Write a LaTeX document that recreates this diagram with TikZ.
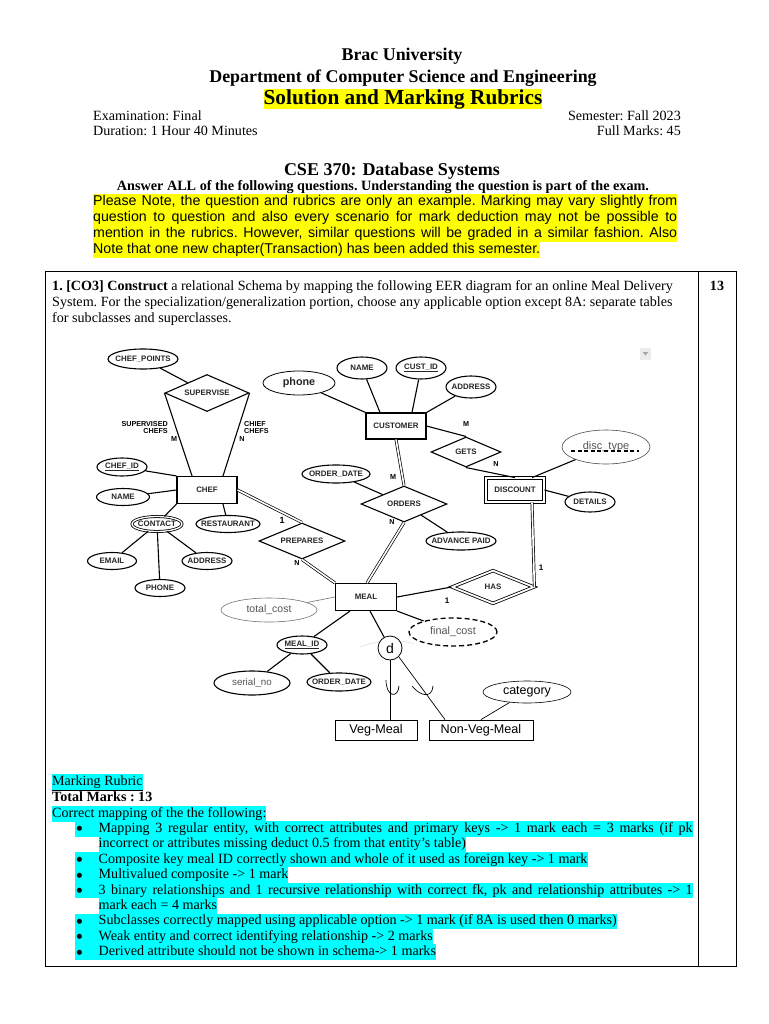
\documentclass[tikz,border=0pt]{standalone}
\usepackage{fontspec}
\setmainfont{Liberation Serif}
\setsansfont{Liberation Sans}
\newfontfamily\djv{DejaVu Sans}
\usetikzlibrary{shapes.geometric}
\definecolor{hly}{HTML}{FFFF00}
\definecolor{hlc}{HTML}{00FFFF}
\definecolor{greytxt}{HTML}{555555}
\newcommand\erf{\sffamily\bfseries\fontsize{7.9}{8.5}\selectfont}
\newcommand\bodyf{\fontsize{14.1}{15}\selectfont\frenchspacing}
\newcommand\zw[1]{\makebox[0pt]{#1}}
\newcommand\bul{\makebox[23.5pt][l]{\hspace{1.5pt}\raisebox{1.6pt}{\djv\fontsize{6.6}{7}\selectfont ●}}}
\begin{document}
\begin{tikzpicture}[x=1pt,y=-1pt,
  ent/.style={draw, line width=1.1pt, inner sep=0, minimum width=60pt, minimum height=27pt, font=\erf, text=black!85},
  att/.style={draw, ellipse, line width=1.1pt, inner sep=0, font=\erf, text=black!85},
  rel/.style={draw, diamond, line width=1.1pt, inner sep=0, font=\erf, text=black!85},
  ln/.style={line width=1.1pt},
  dbl/.style={double, double distance=1.6pt, line width=0.7pt},
  card/.style={font=\sffamily\bfseries\fontsize{7.2}{8}\selectfont, inner sep=0},
  tl/.style={anchor=base west, inner sep=0, font=\bodyf},
  tr/.style={anchor=base east, inner sep=0, font=\bodyf},
  tc/.style={anchor=base, inner sep=0},
  yel/.style={fill=hly, text height=11.8pt, text depth=4.2pt},
  cya/.style={fill=hlc, text height=11.4pt, text depth=4pt},
  notef/.style={font=\sffamily\fontsize{14.2}{16}\selectfont\frenchspacing},
]
\useasboundingbox (0,0) rectangle (768,1024);
\fill[white] (0,0) rectangle (768,1024);

% ---------- header ----------
\node[tc, font=\bfseries\fontsize{17.9}{20}\selectfont] (t1) at (402,61) {Brac University};
\node[tc, font=\bfseries\fontsize{17.9}{20}\selectfont] (t2) at (403,83) {Department of Computer Science and Engineering};
\node[tc, fill=hly, text height=15.5pt, text depth=5pt, font=\bfseries\fontsize{21.3}{23}\selectfont] (t3) at (403,104.5) {Solution and Marking Rubrics};
\node[tl] (ex) at (93,120.5) {Examination: Final};
\node[tl] (du) at (93,136) {Duration: 1 Hour 40 Minutes};
\node[tr] (se) at (681,120.5) {Semester: Fall 2023};
\node[tr] (fm) at (681,136) {Full Marks: 45};
\node[tc, font=\bfseries\fontsize{18}{20}\selectfont] (cse) at (392,176) {CSE 370: Database Systems};
\node[tc, font=\bfseries\fontsize{14.2}{15}\selectfont\frenchspacing] (ans) at (383,190.5) {Answer ALL of the following questions. Understanding the question is part of the exam.};

\node[tl, yel, notef] (n1) at (93,205.5) {\makebox[584pt][s]{Please Note, the question and rubrics are only an example. Marking may vary slightly from}};
\node[tl, yel, notef] (n2) at (93,221.5) {\makebox[584pt][s]{question to question and also every scenario for mark deduction may not be possible to}};
\node[tl, yel, notef] (n3) at (93,237.5) {\makebox[584pt][s]{mention in the rubrics. However, similar questions will be graded in a similar fashion. Also}};
\node[tl, yel, notef] (n4) at (93,253.5) {Note that one new chapter(Transaction) has been added this semester.};

% ---------- box ----------
\draw[line width=1pt] (45,271) rectangle (736,966);
\draw[line width=1pt] (698,271) -- (698,966);
\node[tl] (q1) at (52,290.5) {\textbf{1. [CO3] Construct} a relational Schema by mapping the following EER diagram for an online Meal Delivery};
\node[tl] (q2) at (52,306.5) {System. For the specialization/generalization portion, choose any applicable option except 8A: separate tables};
\node[tl] (q3) at (52,322.5) {for subclasses and superclasses.};
\node[tc, font=\bfseries\bodyf] (m13) at (717,290.5) {13};

% ---------- EER diagram ----------
\fill[gray!15] (640,348) rectangle (651,360);
\fill[gray!70] (642.5,352) -- (648.5,352) -- (645.5,355.5) -- cycle;

% CHEF side
\node[att, minimum width=70pt, minimum height=20pt] (chefpoints) at (143,359) {\zw{CHEF\_POINTS}};
\node[rel, minimum width=84pt, minimum height=37pt] (supervise) at (207,393) {\zw{SUPERVISE}};
\node[ent] (chef) at (207,490) {CHEF};
\node[att, minimum width=50pt, minimum height=18pt] (chefid) at (122,467) {\zw{\underline{CHEF\_ID}}};
\node[att, minimum width=53pt, minimum height=17pt] (cname) at (123,497) {\zw{NAME}};
\node[att, double, double distance=1.3pt, line width=0.8pt, minimum width=50pt, minimum height=15pt] (contact) at (157,524) {\zw{CONTACT}};
\node[att, minimum width=64pt, minimum height=17pt] (restaurant) at (228,524) {\zw{RESTAURANT}};
\node[att, minimum width=49pt, minimum height=17pt] (email) at (112,561) {\zw{EMAIL}};
\node[att, minimum width=50pt, minimum height=17pt] (caddr) at (207,561) {\zw{ADDRESS}};
\node[att, minimum width=50pt, minimum height=17pt] (cphone) at (160,588) {\zw{PHONE}};
\node[rel, minimum width=86pt, minimum height=36pt] (prepares) at (302,541) {\zw{PREPARES}};

\draw[ln] (chefpoints) -- (supervise);
\draw[ln] (supervise.west) -- ([xshift=-15pt]chef.north);
\draw[ln] (supervise.east) -- ([xshift=16pt]chef.north);
\draw[ln] (chefid) -- (chef.north west);
\draw[ln] (cname) -- (chef.west);
\draw[ln] (contact) -- (chef.south west);
\draw[ln] (restaurant) -- ([xshift=16pt]chef.south);
\draw[ln] (contact) -- (email);
\draw[ln] (contact) -- (cphone);
\draw[ln] (contact) -- (caddr);

\node[card, anchor=east, align=right] (supd) at (168,428) {SUPERVISED\\[-1pt]CHEFS};
\node[card, anchor=west, align=left] (chiefc) at (244,428) {CHIEF\\[-1pt]CHEFS};
\node[card] (cm1) at (174,439) {M};
\node[card] (cn1) at (242,439) {N};

% CUSTOMER side
\node[att, minimum width=72pt, minimum height=24pt, line width=0.8pt, font=\sffamily\bfseries\fontsize{10.8}{12}\selectfont] (phone) at (299,383) {\zw{phone}};
\node[att, minimum width=50pt, minimum height=22pt] (cname2) at (362,368) {\zw{NAME}};
\node[att, minimum width=50pt, minimum height=22pt] (custid) at (421,368) {\zw{\underline{CUST\_ID}}};
\node[att, minimum width=50pt, minimum height=22pt] (caddr2) at (471,387) {\zw{ADDRESS}};
\node[ent, minimum height=26pt] (customer) at (396,426) {CUSTOMER};
\node[rel, minimum width=70pt, minimum height=30pt] (gets) at (466,452) {\zw{GETS}};
\node[ent, double, double distance=1.8pt, line width=0.8pt, minimum width=58pt, minimum height=24pt] (discount) at (515,490) {DISCOUNT};
\node[att, line width=0.6pt, draw=black!70, minimum width=88pt, minimum height=34pt, font=\sffamily\fontsize{11}{12}\selectfont, text=greytxt] (disctype) at (606,447) {\zw{disc\_type}};
\node[att, minimum width=50pt, minimum height=20pt] (details) at (590,502) {\zw{DETAILS}};
\node[att, minimum width=68pt, minimum height=18pt] (orderdate) at (336,474) {\zw{ORDER\_DATE}};
\node[rel, minimum width=86pt, minimum height=36pt] (orders) at (404,504) {\zw{ORDERS}};
\node[att, minimum width=70pt, minimum height=18pt] (advpaid) at (461,541) {\zw{ADVANCE PAID}};

\draw[ln] (phone) -- (customer.north west);
\draw[ln] (cname2) -- ([xshift=-16pt]customer.north);
\draw[ln] (custid) -- ([xshift=16pt]customer.north);
\draw[ln] (caddr2) -- (customer.north east);
\draw[ln] (customer.east) -- (gets.north);
\draw[ln] (gets.south) -- (discount.north);
\draw[ln] ([xshift=17pt]discount.north) -- (disctype);
\draw[ln] (discount.east) -- (details);
\draw[ln] (orderdate) -- (orders);
\draw[ln] (orders) -- (advpaid);
\draw[dbl] (customer.south) -- (orders.north);
\draw[dashed, line width=1.4pt, dash pattern=on 4pt off 2.6pt] ([xshift=-35pt,yshift=-4pt]disctype.center) -- ([xshift=33pt,yshift=-4pt]disctype.center);

\node[card] (cm2) at (466,424) {M};
\node[card] (cn2) at (496,464) {N};
\node[card] (cm3) at (393,477) {M};
\node[card] (cn3) at (392,522) {N};

% MEAL
\node[ent, minimum width=61pt] (meal) at (366,597) {MEAL};
\node[rel, double, double distance=1.8pt, line width=0.8pt, minimum width=82pt, minimum height=33pt] (has) at (493,587) {\zw{HAS}};
\node[att, line width=0.6pt, draw=black!55, minimum width=96pt, minimum height=24pt, font=\sffamily\fontsize{10.5}{12}\selectfont, text=greytxt] (totalcost) at (269,610) {\zw{total\_cost}};
\node[att, dashed, dash pattern=on 5pt off 3pt, line width=1.3pt, minimum width=88pt, minimum height=28pt, font=\sffamily\fontsize{10.8}{12}\selectfont, text=greytxt] (finalcost) at (453,632) {\zw{final\_cost}};
\node[att, minimum width=50pt, minimum height=18pt] (mealid) at (302,645) {\zw{\underline{MEAL\_ID}}};
\node[att, minimum width=76pt, minimum height=24pt, font=\sffamily\fontsize{9.8}{11}\selectfont, text=greytxt] (serialno) at (252,683) {\zw{serial\_no}};
\node[att, minimum width=64pt, minimum height=18pt] (odate2) at (339,682) {\zw{ORDER\_DATE}};

\draw[dbl] (chef.east) -- (prepares.north);
\draw[dbl] (prepares.south) -- (meal.north west);
\draw[dbl] (orders.south) -- ([xshift=1pt]meal.north);
\draw[dbl] ([xshift=17pt]discount.south) -- (has.east);
\draw[ln] (meal.east) -- (has.west);
\draw[ln] (meal.south east) -- (finalcost);
\draw[line width=0.6pt, black!55] (meal.west) -- (totalcost);
\draw[ln] ([xshift=-16pt]meal.south) -- (mealid);
\draw[ln] (mealid) -- (serialno);
\draw[ln] (mealid) -- (odate2);

\node[card, font=\sffamily\bfseries\fontsize{9}{10}\selectfont] (c1a) at (282,520) {1};
\node[card] (cn4) at (297,563) {N};
\node[card, font=\sffamily\bfseries\fontsize{8}{9}\selectfont] (c1b) at (541,568) {1};
\node[card, font=\sffamily\bfseries\fontsize{8}{9}\selectfont] (c1c) at (447,601) {1};

% specialization
\draw[gray!25, line width=0.6pt] (360,647) .. controls (378,640) and (400,639) .. (414,644);
\node[draw, circle, line width=0.8pt, fill=white, minimum size=24pt, inner sep=0, font=\sffamily\fontsize{14}{14}\selectfont] (d) at (390,648) {d};
\node[draw, line width=0.8pt, minimum width=82pt, minimum height=20pt, inner sep=0, font=\sffamily\fontsize{12.6}{14}\selectfont] (veg) at (376,730) {Veg-Meal};
\node[draw, line width=0.8pt, minimum width=104pt, minimum height=20pt, inner sep=0, font=\sffamily\fontsize{12.6}{14}\selectfont] (nonveg) at (481,730) {Non-Veg-Meal};
\node[draw, ellipse, line width=0.6pt, minimum width=88pt, minimum height=22pt, inner sep=0, font=\sffamily\fontsize{12.5}{14}\selectfont] (category) at (527,692) {\zw{category}};

\draw[ln] ([xshift=4pt]meal.south) -- (d);
\draw[line width=0.7pt] (d.south) -- (d.south |- veg.north);
\draw[line width=0.7pt] (d.south east) -- ([xshift=-36pt]nonveg.north);
\draw[line width=0.7pt] (category) -- (nonveg.north);
\draw[line width=0.7pt] (386,680) .. controls (386,697) and (398,699) .. (399,686);
\draw[line width=0.7pt] (412,686) .. controls (420,696) and (432,699) .. (433,686);

% ---------- rubric ----------
\node[tl, cya] (r0) at (52,785.5) {\underline{Marking Rubric}};
\node[tl, font=\bfseries\bodyf] (r1) at (52,801.5) {Total Marks : 13};
\node[tl, cya] (r2) at (52,817.5) {Correct mapping of the the following:};
\node[tl, cya] (b1) at (75,832.5) {\bul\makebox[594pt][s]{Mapping 3 regular entity, with correct attributes and primary keys -> 1 mark each = 3 marks (if pk}};
\node[tl, cya] (b1b) at (98.5,847.9) {incorrect or attributes missing deduct 0.5 from that entity’s table)};
\node[tl, cya] (b2) at (75,863.3) {\bul Composite key meal ID correctly shown and whole of it used as foreign key -> 1 mark};
\node[tl, cya] (b3) at (75,878.7) {\bul Multivalued composite -> 1 mark};
\node[tl, cya] (b4) at (75,894.1) {\bul\makebox[594pt][s]{3 binary relationships and 1 recursive relationship with correct fk, pk and relationship attributes -> 1}};
\node[tl, cya] (b4b) at (98.5,909.5) {mark each = 4 marks};
\node[tl, cya] (b5) at (75,924.9) {\bul Subclasses correctly mapped using applicable option -> 1 mark (if 8A is used then 0 marks)};
\node[tl, cya] (b6) at (75,940.3) {\bul Weak entity and correct identifying relationship -> 2 marks};
\node[tl, cya] (b7) at (75,955.7) {\bul Derived attribute should not be shown in schema-> 1 marks};
\end{tikzpicture}
\end{document}
